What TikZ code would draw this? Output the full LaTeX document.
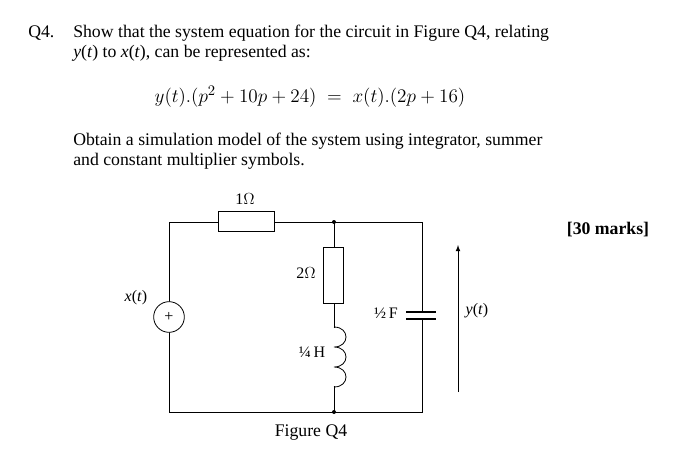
\documentclass[tikz,border=0pt]{standalone}
\usepackage{fontspec}
\setmainfont{Liberation Serif}
\begin{document}
\begin{tikzpicture}[x=0.75pt,y=-0.75pt,
  txt/.style={inner sep=0pt,font=\fontsize{13.3}{16}\selectfont},
  lbl/.style={inner sep=0pt,font=\fontsize{12}{14}\selectfont},
  comp/.style={draw,fill=white,line width=0.6pt},
  wire/.style={line width=0.6pt},
  dot/.style={circle,fill,inner sep=0pt,minimum size=3pt}]
\useasboundingbox (0,0) rectangle (685,464);
\node[txt,anchor=west] (q) at (28,33) {Q4.};
\node[txt,anchor=west] (l1) at (73,33) {Show that the system equation for the circuit in Figure Q4, relating};
\node[txt,anchor=west] (l2) at (73,53) {\textit{y}(\textit{t}) to \textit{x}(\textit{t}), can be represented as:};
\node[txt,font=\fontsize{15}{18}\selectfont] (eq) at (310,97) {$y(t).\bigl(p^2+10p+24\bigr) \;=\; x(t).\bigl(2p+16\bigr)$};
\node[txt,anchor=west] (l3) at (73,141) {Obtain a simulation model of the system using integrator, summer};
\node[txt,anchor=west] (l4) at (73,161) {and constant multiplier symbols.};
\node[txt,font=\bfseries\fontsize{13.3}{16}\selectfont] (mk) at (608,230) {[30 marks]};
% circuit
\coordinate (tl) at (169,222); \coordinate (bl) at (169,412);
\coordinate (tm) at (334,222); \coordinate (bm) at (334,412);
\coordinate (tr) at (422,222); \coordinate (br) at (422,412);
\draw[wire] (bl) -- (tl) -- (tr) -- (br) -- (bl);
\draw[wire] (tm) -- (bm);
\node[comp,minimum width=42pt,minimum height=15pt,inner sep=0pt] (r1) at (246,221) {};
\node[comp,minimum width=15pt,minimum height=42pt,inner sep=0pt] (r2) at (333,275) {};
\fill[white] (327,328) rectangle (352,386);
\draw[wire] (334,327) .. controls (350,327) and (350,347) .. (334,347)
  .. controls (350,347) and (350,367) .. (334,367)
  .. controls (350,367) and (350,387) .. (334,387);
\node[comp,circle,minimum size=23pt,inner sep=0pt] (src) at (169,317) {};
\node[lbl] at (src) {+};
\fill[white] (400,313) rectangle (440,318);
\draw[line width=0.9pt] (406,312) -- (436,312) (406,319) -- (436,319);
\node[dot] at (tm) {}; \node[dot] at (bm) {};
\coordinate (a1) at (458,392); \coordinate (a2) at (458,245);
\draw[wire,-latex] (a1) -- (a2);
\node[lbl] at (245,199) {1$\Omega$};
\node[lbl] at (306,273) {2$\Omega$};
\node[lbl] at (136,298) {\textit{x}(\textit{t})};
\node[lbl] at (386,313) {½\,F};
\node[lbl] at (312,352) {¼\,H};
\node[lbl] at (477,311) {\textit{y}(\textit{t})};
\node[txt] at (311,433) {Figure Q4};
\end{tikzpicture}
\end{document}
